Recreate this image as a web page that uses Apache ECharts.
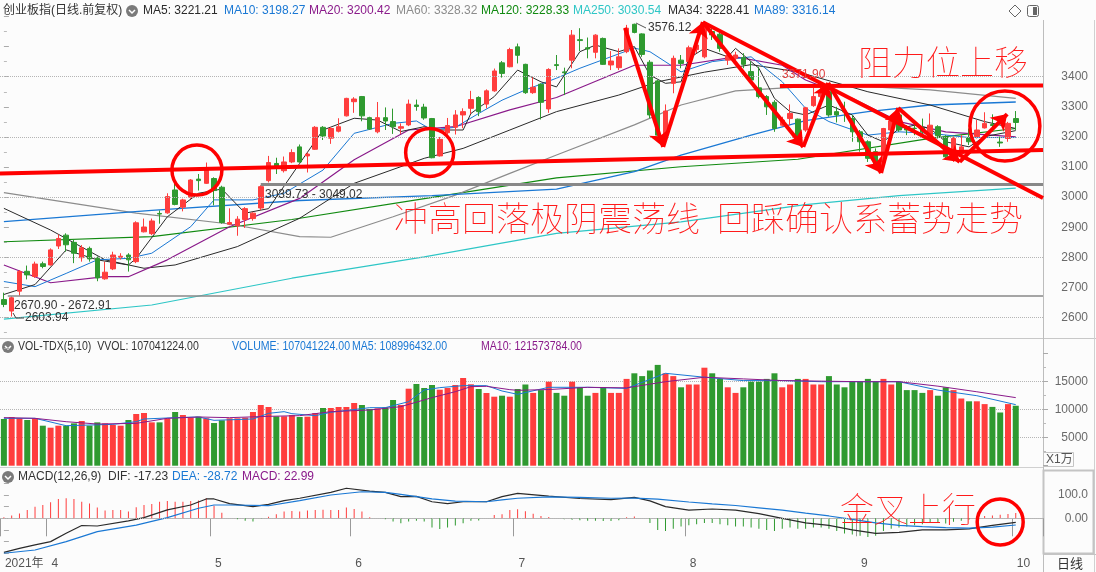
<!DOCTYPE html>
<html><head><meta charset="utf-8">
<script src="https://cdn.jsdelivr.net/npm/echarts/dist/echarts.min.js"></script>
<style>html,body{margin:0;padding:0;background:#fcfcfc}#c{width:1096px;height:572px}</style>
</head><body><div id="c"></div><script>
const dates = ['2021-03-24','2021-03-25','2021-03-26','2021-03-29','2021-03-30','2021-03-31',
'2021-04-01','2021-04-02','2021-04-06','2021-04-07','2021-04-08','2021-04-09','2021-04-12','2021-04-13','2021-04-14','2021-04-15','2021-04-16','2021-04-19','2021-04-20','2021-04-21','2021-04-22','2021-04-23','2021-04-26','2021-04-27','2021-04-28','2021-04-29','2021-04-30',
'2021-05-06','2021-05-07','2021-05-10','2021-05-11','2021-05-12','2021-05-13','2021-05-14','2021-05-17','2021-05-18','2021-05-19','2021-05-20','2021-05-21','2021-05-24','2021-05-25','2021-05-26','2021-05-27','2021-05-28','2021-05-31',
'2021-06-01','2021-06-02','2021-06-03','2021-06-04','2021-06-07','2021-06-08','2021-06-09','2021-06-10','2021-06-11','2021-06-15','2021-06-16','2021-06-17','2021-06-18','2021-06-21','2021-06-22','2021-06-23','2021-06-24','2021-06-25','2021-06-28','2021-06-29','2021-06-30',
'2021-07-01','2021-07-02','2021-07-05','2021-07-06','2021-07-07','2021-07-08','2021-07-09','2021-07-12','2021-07-13','2021-07-14','2021-07-15','2021-07-16','2021-07-19','2021-07-20','2021-07-21','2021-07-22','2021-07-23','2021-07-26','2021-07-27','2021-07-28','2021-07-29','2021-07-30',
'2021-08-02','2021-08-03','2021-08-04','2021-08-05','2021-08-06','2021-08-09','2021-08-10','2021-08-11','2021-08-12','2021-08-13','2021-08-16','2021-08-17','2021-08-18','2021-08-19','2021-08-20','2021-08-23','2021-08-24','2021-08-25','2021-08-26','2021-08-27','2021-08-30','2021-08-31',
'2021-09-01','2021-09-02','2021-09-03','2021-09-06','2021-09-07','2021-09-08','2021-09-09','2021-09-10','2021-09-13','2021-09-14','2021-09-15','2021-09-16','2021-09-17','2021-09-22','2021-09-23','2021-09-24','2021-09-27','2021-09-28','2021-09-29','2021-09-30',
'2021-10-08'];

const opens = [2660,2622,2688,2754,2737,2779,2775,2838,2874,2850,2799,2830,2797,2729,2762,2800,2808,2786,2885,2879,
2946,2948,3024,2967,3000,3060,3046,3062,3033,2910,2905,2926,2929,2964,3055,3112,3088,3117,3167,3137,
3159,3232,3196,3219,3270,3317,3334,3264,3217,3264,3251,3229,3240,3306,3299,3261,3137,3214,3232,3273,
3295,3331,3309,3353,3446,3433,3499,3441,3347,3375,3293,3440,3416,3455,3523,3496,3481,3527,3439,3430,
3483,3574,3542,3448,3386,3206,3378,3455,3450,3490,3466,3550,3541,3455,3461,3463,3417,3363,3334,3315,
3239,3261,3259,3223,3304,3334,3350,3284,3286,3261,3217,3184,3151,3117,3223,3273,3230,3229,3230,3201,
3234,3200,3128,3145,3197,3201,3230,3241,3183,3195,3261];
const closes = [2644,2666,2753,2742,2778,2770,2825,2863,2842,2814,2832,2795,2732,2751,2808,2804,2792,2915,2901,2921,
2944,3002,2976,2991,3057,3055,3095,3022,2916,2916,2927,2962,2947,3035,3115,3099,3117,3148,3117,3143,
3232,3203,3228,3234,3328,3326,3270,3226,3264,3253,3234,3234,3309,3301,3263,3131,3192,3238,3273,3284,
3324,3284,3353,3419,3411,3490,3471,3347,3365,3315,3424,3437,3413,3538,3520,3492,3538,3441,3452,3466,
3561,3547,3474,3273,3206,3286,3461,3444,3496,3505,3561,3539,3494,3470,3472,3441,3389,3334,3300,3228,
3256,3278,3184,3297,3334,3350,3273,3273,3283,3217,3184,3129,3106,3228,3253,3223,3223,3228,3217,3239,
3204,3134,3195,3167,3184,3223,3245,3238,3180,3245,3248];
const lows = [2635,2603.94,2672.91,2727,2732,2764,2773,2828,2819,2781,2786,2786,2721,2726,2758,2793,2753,2781,2883,2874,
2912,2945,2973,2953,2994,3022,3044,2973,2912,2907,2872,2898,2922,2957,3049.02,3077,3082,3113,3115,3082,
3157,3190,3177,3215,3268,3280,3252,3223,3212,3223,3210,3210,3236,3287,3257,3129,3135,3208,3208,3229,
3276,3269,3295,3350,3397,3431,3444,3343,3343,3258,3280,3422,3339,3428,3485,3461,3461,3439,3422,3422,
3478,3544,3466,3262,3204,3204,3345,3428,3439,3478,3461,3522,3483,3439,3450,3428,3383,3328,3273,3217,
3234,3239,3178,3217,3300,3328,3267,3248,3250,3184,3151,3117,3095,3095,3219,3217,3206,3206,3200,3197,
3195,3128,3117,3140,3173,3195,3228,3217,3167,3184,3223];
const highs = [2683,2670.90,2758,2773,2786,2786,2830,2876,2880,2858,2841,2836,2803,2786,2819,2814,2814,2920,2929,2929,
2956,3013,3049,2995,3060,3077,3115,3066,3038,2963,2937,2967,2950,3039.73,3137,3131,3135,3159,3175,3148,
3236,3236,3233,3262,3330,3332,3336,3267,3316,3298,3294,3245,3324,3324,3310,3263,3200,3263,3289,3295,
3353,3335,3358,3427,3452,3496,3510,3443,3398,3378,3428,3472,3430,3555,3561,3530,3541,3530,3485,3494,
3572,3576.12,3544,3455,3389,3308,3470,3472,3503,3520,3572,3561,3555,3478,3483,3478,3450,3433,3339,3322,
3267,3308,3261,3300,3363,3371.90,3361,3300,3317,3273,3223,3189,3162,3230,3261,3297,3239,3250,3261,3278,
3239,3206,3201,3206,3228,3256,3282,3275,3201,3250,3286];

const ma5 = [[0,2677],[4,2710],[8,2825],[12,2792],[16,2775],[17,2797],[21,2935],[25,3013],[28,3027],[31,2947],[34,2962],[38,3112],[41,3223],[45,3262],[48,3256],[51,3218],[54,3234],[56,3223],[59,3223],[60,3278],[63,3334],[66,3422],[69,3383],[71,3366],[74,3483],[76,3505],[79,3483],[81,3500],[83,3405],[85,3378],[87,3383],[88,3461],[90,3494],[93,3466],[94,3494],[97,3428],[99,3328],[101,3284],[103,3273],[106,3306],[109,3273],[111,3206],[113,3184],[115,3228],[117,3239],[119,3228],[121,3184],[124,3167],[126,3201],[130,3221]];
const ma10 = [[0,2720],[4,2703],[8,2747],[12,2792],[16,2797],[19,2814],[24,2902],[27,2991],[32,2991],[36,3013],[41,3090],[45,3212],[50,3245],[53,3253],[55,3223],[58,3232],[61,3278],[64,3322],[67,3356],[71,3395],[74,3428],[81,3495],[83,3483],[87,3416],[91,3450],[96,3466],[100,3383],[103,3295],[106,3251],[111,3206],[115,3217],[119,3212],[124,3198],[130,3198]];
const ma20 = [[0,2775],[6,2716],[13,2736],[16,2736],[21,2792],[29,2902],[38,2996],[45,3124],[52,3223],[58,3234],[65,3290],[71,3331],[81,3438],[87,3438],[94,3466],[100,3438],[103,3389],[109,3328],[115,3251],[121,3217],[130,3200]];
const ma34 = [[0,2963],[6,2891],[13,2792],[18,2764],[22,2775],[30,2836],[38,2930],[45,3046],[54,3129],[59,3162],[65,3223],[71,3284],[79,3339],[84,3383],[90,3415],[96,3440],[102,3416],[111,3350],[119,3306],[126,3251],[130,3228]];
const ma60 = [[0,3015],[17,2947],[29,2911],[38,2869],[42,2867],[50,2935],[58,3007],[65,3079],[71,3140],[81,3240],[87,3306],[94,3353],[103,3367],[111,3367],[119,3356],[130,3328]];
const ma89 = [[0,2919],[19,2956],[38,2989],[55,3005],[71,3027],[81,3085],[87,3140],[96,3206],[103,3254],[111,3284],[119,3306],[130,3316]];
const ma120 = [[0,2852],[19,2869],[37,2926],[53,2991],[71,3064],[87,3101],[102,3126],[119,3195],[130,3228]];
const ma250 = [[0,2595],[19,2642],[37,2731],[54,2802],[71,2880],[87,2918],[103,2975],[115,3005],[130,3030]];

const volume = [8340,8698,8460,8162,8460,7144,6787,7144,7144,7560,7985,7144,7740,7560,7263,7144,8162,9234,9412,7740,
7740,8460,9590,9055,8580,8755,8460,7620,8104,8460,8460,8580,9590,10840,10484,8817,8817,9055,8698,8755,
9412,10305,10305,10484,10484,11198,10840,10126,10245,10424,11734,10840,13752,14591,13877,14413,13573,13877,14413,15663,
14538,13699,12984,12323,12502,12323,13699,14500,13000,13500,15000,13000,12500,15000,14000,12500,13000,14000,13000,13000,
15500,16500,16000,17000,18000,16500,16000,14000,14500,14500,17500,16500,15500,14000,13000,14000,15000,15000,15500,16500,
14000,14500,15500,15500,14500,14500,16000,14500,14000,15000,15000,15500,15000,15500,14500,15000,13500,13500,13000,13500,
12500,14000,13500,12000,11500,11500,11000,10500,9500,11000,10704];
const volMa5 = [[0,8460],[4,8460],[8,7144],[14,7382],[17,7858],[18,8340],[22,8580],[25,8698],[27,8104],[32,8340],[34,9352],[36,9650],[37,9293],[40,8936],[42,9531],[47,10364],[49,10364],[52,11436],[54,13520],[56,13937],[59,14294],[62,14294],[64,13341],[66,12746],[70,14000],[75,14000],[80,13800],[85,16500],[90,15800],[95,15200],[100,15200],[105,15000],[110,15000],[115,15000],[120,13500],[125,12500],[130,10900]];
const volMa10 = [[0,8580],[4,8460],[8,7858],[12,7441],[17,7560],[21,8460],[25,8698],[29,8580],[34,8817],[38,8936],[42,9650],[47,9948],[51,10543],[55,12150],[58,13222],[60,14115],[62,14175],[65,13580],[66,13460],[70,13600],[75,14000],[80,13900],[85,15000],[90,15800],[95,15500],[100,15200],[105,15100],[110,15000],[115,15000],[120,14200],[125,13200],[130,12157]];

const macdHist = [5,12,21,36,50,57,69,83,86,83,71,64,46,33,36,36,29,47,57,61,
71,74,71,71,74,76,86,54,24,0,-4,-10,-14,-3,7,17,29,31,29,33,
36,37,36,36,46,40,29,4,0,-4,-14,-21,-14,-10,-14,-40,-46,-40,-31,-21,
-11,-9,0,14,17,36,39,30,20,10,6,0,-4,-6,-8,-10,-10,-12,-12,-8,
5,8,0,-20,-50,-55,-45,-35,-30,-25,-20,-20,-25,-30,-35,-35,-40,-45,-50,-55,
-45,-40,-45,-45,-40,-40,-45,-55,-65,-70,-75,-80,-75,-55,-45,-40,-35,-30,-25,-20,
-20,-22,-15,-10,-5,3,10,12,15,18,22.99];
const dif = [[0,-146],[2,-129],[4,-114],[6,-100],[8,-64],[10,-31],[12,-33],[16,-11],[18,3],[21,36],[24,57],[26,83],[27,83],[29,63],[32,50],[34,60],[36,76],[38,86],[42,111],[44,129],[47,117],[49,111],[51,93],[53,94],[55,71],[57,63],[59,71],[62,71],[64,93],[66,107],[70,95],[74,85],[78,80],[81,90],[83,75],[85,50],[88,35],[91,40],[94,35],[97,20],[100,0],[103,-20],[106,-30],[109,-50],[112,-65],[115,-60],[118,-50],[121,-50],[124,-45],[127,-30],[130,-17.23]];
const dea = [[0,-150],[4,-136],[8,-100],[12,-57],[17,-29],[21,3],[25,43],[27,57],[29,57],[34,54],[38,76],[42,100],[46,114],[49,111],[51,103],[55,83],[58,74],[62,71],[64,79],[66,86],[70,92],[74,90],[78,86],[81,87],[84,82],[88,70],[91,62],[94,55],[97,45],[100,35],[103,22],[106,10],[109,-5],[112,-20],[115,-30],[118,-36],[121,-40],[124,-42],[127,-38],[130,-28.72]];

const priceTicks = [2600,2700,2800,2900,3000,3100,3200,3300,3400];
const priceGrid = [2600,2800,3000,3200,3400];
const volTicks = [5000,10000,15000];

// annotations (category-position, price)
const supportLine = [[-0.5,3079],[133.5,3157]];
const resistLine = [[99.7,3369],[133.5,3371]];
const longLine = [[89.8,3581],[133.5,2997]];
const zigzag = [[79.8,3562],[84.7,3167],[89.8,3581],[102.7,3167],[105.9,3379],[112.7,3080],[114.9,3296],[122.8,3117],[128.9,3276]];
const gapHigh = [33, 3039.73, 3049.02];
const gapLow = [0.5, 2670.90, 2672.91];
const circlesPrice = [[24.8,3090,50],[54.7,3148,48],[128.6,3236,70]];
const circlesMacd = [[128.0,-16,46]];

const RED='#ff3d3d', GREEN='#2f9a30', BLUE='#1a78d4', PURPLE='#8a1a8a', GRAY='#8c8c8c', DGREEN='#118a11', CYAN='#2ec6c6', BLK='#2a2a2a';
const FONT='"Liberation Sans","Noto Sans CJK SC",sans-serif';
const CJK='"Noto Sans CJK SC",sans-serif';

const axisCats = dates.concat(['','','']);
const candleData = dates.map((d,i)=>[opens[i],closes[i],lows[i],highs[i]]);
const up = i => closes[i] >= opens[i];
const monthStart = i => i===0 || (i<dates.length && dates[i].slice(5,7)!==dates[i-1].slice(5,7));

function maLine(name,data,color,w){return {name,type:'line',xAxisIndex:0,yAxisIndex:0,data,showSymbol:false,symbol:'none',lineStyle:{color,width:w||1},z:3,silent:true,clip:true};}

const arrowSegs=[];
for(let k=0;k<zigzag.length-1;k++) arrowSegs.push({coords:[zigzag[k],zigzag[k+1]]});

const chart = echarts.init(document.getElementById('c'),null,{renderer:'canvas'});

function T(x,y,s,color,size,extra){return Object.assign({type:'text',x,y,silent:true,style:{text:s,fill:color||'#333',font:(size||12)+'px '+FONT,textVerticalAlign:'middle'}},extra||{});}
function L(x1,y1,x2,y2,color,w){return {type:'line',silent:true,shape:{x1,y1,x2,y2},style:{stroke:color||'#c8c8c8',lineWidth:w||1}};}
function icon(x,y){return [{type:'circle',silent:true,shape:{cx:x,cy:y,r:6},style:{fill:'#7a7a7a'}},{type:'polyline',silent:true,shape:{points:[[x-3,y-1],[x,y+2],[x+3,y-1]]},style:{stroke:'#fff',lineWidth:1.5,fill:null}}];}
function big(x,y,s){return {type:'text',x,y,silent:true,z:50,style:{text:s,fill:'#ff1a1a',font:'lighter 34px '+CJK,textVerticalAlign:'middle'}};}
const NARROW={scaleX:0.88};

const graphics = [
  L(0,338.5,1096,338.5,'#c8c8c8'),
  L(0,467.5,1043,467.5,'#d0d0d0'),
  L(1043.5,20,1043.5,572,'#bdbdbd'),
  L(1094.5,20,1094.5,572,'#d0d0d0'),
  {type:'rect',silent:true,shape:{x:1043.5,y:470.5,width:50,height:83},style:{fill:null,stroke:'#c4c4c4',lineWidth:2}},
  {type:'rect',silent:true,shape:{x:1043.5,y:452.5,width:30,height:14},style:{fill:null,stroke:'#c4c4c4',lineWidth:1}},
  T(1046,460,'X1万','#555',12),
  L(1043,554.5,1096,554.5,'#c4c4c4'),
  T(1057,564,'日线','#333',13),
  T(3,11,'创业板指(日线.前复权)','#333',12),
  ...icon(132,11),
  T(143,11,'MA5: 3221.21',BLK,12),
  T(224,11,'MA10: 3198.27',BLUE,12),
  T(309,11,'MA20: 3200.42',PURPLE,12),
  T(396,11,'MA60: 3328.32',GRAY,12),
  T(481,11,'MA120: 3228.33',DGREEN,12),
  T(573,11,'MA250: 3030.54',CYAN,12),
  T(668,11,'MA34: 3228.41',BLK,12),
  T(754,11,'MA89: 3316.14',BLUE,12),
  {type:'polygon',silent:true,shape:{points:[[1015,5],[1021,11],[1015,17],[1009,11]]},style:{fill:null,stroke:'#666',lineWidth:1}},
  {type:'rect',silent:true,shape:{x:1027.5,y:5.5,width:11,height:11,r:2},style:{fill:null,stroke:'#666',lineWidth:1}},
  {type:'rect',silent:true,shape:{x:1033,y:7,width:4,height:8},style:{fill:'#666'}},
  ...icon(8,347),
  T(18,347,'VOL-TDX(5,10)  VVOL: 107041224.00','#333',12,NARROW),
  T(232,347,'VOLUME: 107041224.00',BLUE,12,NARROW),
  T(352,347,'MA5: 108996432.00',BLUE,12,NARROW),
  T(481,347,'MA10: 121573784.00',PURPLE,12,NARROW),
  ...icon(8,477),
  T(18,477,'MACD(12,26,9)  DIF: -17.23','#333',12),
  T(172,477,'DEA: -28.72',BLUE,12),
  T(242,477,'MACD: 22.99',PURPLE,12),
  T(648,28,'3576.12','#333',12,{z:20}),
  L(636,23,646,28,'#555'),
  T(782,75,'3371.90','#e04040',12,{z:20}),
  T(14,306,'2670.90 - 2672.91','#333',12,{z:20}),
  {type:'polyline',silent:true,z:20,shape:{points:[[13,313],[16,318],[24,318]]},style:{stroke:'#444',lineWidth:1,fill:null}},
  T(25,318,'2603.94','#333',12,{z:20}),
  T(265,195,'3039.73 - 3049.02','#333',12,{z:20}),
  big(858,62,'阻力位上移'),
  big(394,218,'冲高回落极阴震荡线'),
  big(717,218,'回踩确认系蓄势走势'),
  big(840,509,'金叉上行')
];

const option = {
  animation:false,
  backgroundColor:'#fcfcfc',
  textStyle:{fontFamily:FONT},
  grid:[
    {left:0,width:1043,top:16.45,height:331.35},
    {left:0,width:1043,top:353.7,height:112},
    {left:0,width:1043,top:483.35,height:69.9}
  ],
  xAxis:[
    {type:'category',gridIndex:0,data:axisCats,show:false},
    {type:'category',gridIndex:1,data:axisCats,show:false},
    {type:'category',gridIndex:2,data:axisCats,
      axisLine:{show:true,lineStyle:{color:'#b8b8b8'}},
      axisTick:{show:true,interval:(i)=>monthStart(i),length:18,lineStyle:{color:'#9a9a9a'}},
      axisLabel:{show:true,interval:(i)=>monthStart(i),formatter:(v,i)=>i===0?'2021年':String(parseInt(v.slice(5,7),10)),align:'left',margin:4,padding:[0,0,0,1],color:'#555',fontSize:12,fontFamily:FONT},
      splitLine:{show:false}},
    {type:'value',gridIndex:0,min:-0.5,max:133.5,show:false},
    {type:'value',gridIndex:2,min:-0.5,max:133.5,show:false}
  ],
  yAxis:[
    {type:'value',gridIndex:0,position:'right',min:2500,max:3600,interval:100,
      axisLine:{show:false},splitLine:{show:false},
      axisTick:{show:true,length:5,lineStyle:{color:'#aaa'}},
      minorTick:{show:true,splitNumber:2,length:3,lineStyle:{color:'#bbb'}},
      axisLabel:{formatter:v=>priceTicks.includes(v)?String(v):'',align:'right',margin:45,color:'#6a6a6a',fontSize:12,fontFamily:FONT}},
    {type:'value',gridIndex:1,position:'right',min:0,max:20000,interval:5000,
      axisLine:{show:false},
      splitLine:{show:true,showMinLine:false,showMaxLine:false,lineStyle:{type:'dotted',color:'#b5b5b5'}},
      axisTick:{show:true,length:5,lineStyle:{color:'#aaa'}},
      minorTick:{show:true,splitNumber:2,length:3,lineStyle:{color:'#bbb'}},
      axisLabel:{formatter:v=>volTicks.includes(v)?String(v):'',align:'right',margin:45,color:'#6a6a6a',fontSize:12,fontFamily:FONT}},
    {type:'value',gridIndex:2,position:'right',min:-150,max:150,interval:50,
      axisLine:{show:false},splitLine:{show:false},
      axisTick:{show:true,length:5,lineStyle:{color:'#aaa'}},
      axisLabel:{formatter:v=>v===100?'100.0':(v===0?'0.00':''),align:'right',margin:45,color:'#6a6a6a',fontSize:12,fontFamily:FONT}}
  ],
  series:[
    {type:'candlestick',xAxisIndex:0,yAxisIndex:0,data:candleData,barWidth:5,z:4,
      itemStyle:{color:RED,color0:GREEN,borderColor:RED,borderColor0:GREEN,borderWidth:1},
      markLine:{silent:true,symbol:['none','none'],label:{show:false},lineStyle:{type:'dotted',color:'#b5b5b5',width:1},
        data:priceGrid.map(v=>({yAxis:v}))}},
    maLine('MA250',ma250,CYAN,1.2),
    maLine('MA120',ma120,DGREEN,1.2),
    maLine('MA60',ma60,GRAY,1.2),
    maLine('MA89',ma89,BLUE,1.3),
    maLine('MA34',ma34,BLK,1),
    maLine('MA20',ma20,PURPLE,1.2),
    maLine('MA10',ma10,BLUE,1),
    maLine('MA5',ma5,BLK,1),
    {type:'lines',coordinateSystem:'cartesian2d',xAxisIndex:3,yAxisIndex:0,z:10,silent:true,symbol:['none','none'],
      lineStyle:{color:'#888',width:3,opacity:1},
      data:[{coords:[[gapHigh[0],(gapHigh[1]+gapHigh[2])/2],[133.5,(gapHigh[1]+gapHigh[2])/2]]}]},
    {type:'lines',coordinateSystem:'cartesian2d',xAxisIndex:3,yAxisIndex:0,z:10,silent:true,symbol:['none','none'],
      lineStyle:{color:'#888',width:1.5,opacity:1},
      data:[{coords:[[gapLow[0],(gapLow[1]+gapLow[2])/2],[133.5,(gapLow[1]+gapLow[2])/2]]}]},
    {type:'lines',coordinateSystem:'cartesian2d',xAxisIndex:3,yAxisIndex:0,z:12,silent:true,symbol:['none','none'],
      lineStyle:{color:'#ff0000',width:4,opacity:1},
      data:[{coords:supportLine},{coords:resistLine},{coords:longLine}]},
    {type:'lines',coordinateSystem:'cartesian2d',xAxisIndex:3,yAxisIndex:0,z:12,silent:true,symbol:['none','arrow'],symbolSize:[11,15],
      lineStyle:{color:'#ff0000',width:4,opacity:1},
      data:arrowSegs},
    {type:'scatter',xAxisIndex:3,yAxisIndex:0,z:12,silent:true,symbol:'circle',
      data:circlesPrice.map(c=>({value:[c[0],c[1]],symbolSize:c[2]})),
      itemStyle:{color:'rgba(0,0,0,0)',borderColor:'#ff0000',borderWidth:3.5,opacity:1}},
    {type:'bar',xAxisIndex:1,yAxisIndex:1,data:volume.map((v,i)=>({value:v,itemStyle:{color:up(i)?RED:GREEN}})),barWidth:6,z:3,silent:true},
    {type:'line',xAxisIndex:1,yAxisIndex:1,data:volMa5,showSymbol:false,symbol:'none',lineStyle:{color:BLUE,width:1},z:4,silent:true},
    {type:'line',xAxisIndex:1,yAxisIndex:1,data:volMa10,showSymbol:false,symbol:'none',lineStyle:{color:PURPLE,width:1},z:4,silent:true},
    {type:'bar',xAxisIndex:2,yAxisIndex:2,data:macdHist.map(v=>({value:v,itemStyle:{color:v>=0?RED:GREEN}})),barWidth:1,z:3,silent:true,
      markLine:{silent:true,symbol:['none','none'],label:{show:false},lineStyle:{type:'dotted',color:'#b5b5b5',width:1},data:[{yAxis:0}]}},
    {type:'line',xAxisIndex:2,yAxisIndex:2,data:dif,showSymbol:false,symbol:'none',lineStyle:{color:BLK,width:1.2},z:4,silent:true},
    {type:'line',xAxisIndex:2,yAxisIndex:2,data:dea,showSymbol:false,symbol:'none',lineStyle:{color:BLUE,width:1.2},z:4,silent:true},
    {type:'scatter',xAxisIndex:4,yAxisIndex:2,z:12,silent:true,symbol:'circle',
      data:circlesMacd.map(c=>({value:[c[0],c[1]],symbolSize:c[2]})),
      itemStyle:{color:'rgba(0,0,0,0)',borderColor:'#ff0000',borderWidth:3.5,opacity:1}}
  ],
  graphic:graphics
};
chart.setOption(option);
</script></body></html>
